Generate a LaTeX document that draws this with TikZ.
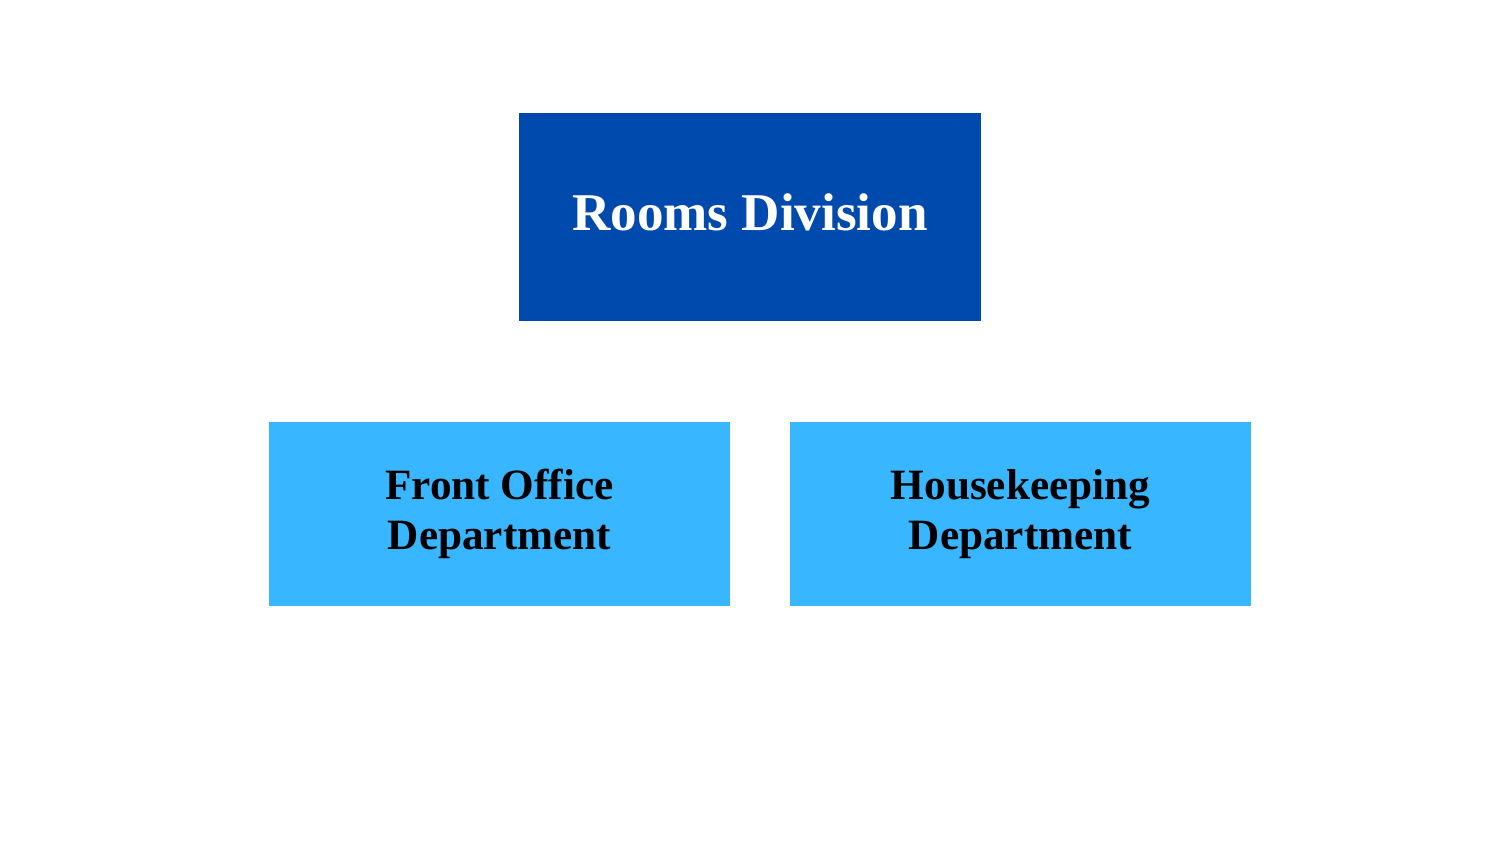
\documentclass[tikz,border=0pt]{standalone}
\usepackage{fontspec}
\setmainfont{Liberation Serif}
\definecolor{darkblue}{HTML}{004AAD}
\definecolor{lightblue}{HTML}{38B6FF}
\tikzset{
  topbox/.style={fill=darkblue, draw=none, minimum width=4.62cm, minimum height=2.08cm, text=white, font=\bfseries\fontsize{15.1}{18}\selectfont, inner sep=0pt},
  subbox/.style={fill=lightblue, draw=none, minimum width=4.61cm, minimum height=1.84cm, text=black, align=center, font=\bfseries\fontsize{12.3}{14.2}\selectfont, inner sep=0pt}
}
\begin{document}
\begin{tikzpicture}
\useasboundingbox[fill=white] (0,0) rectangle (15,8.44);
\path[fill=darkblue] (5.19,5.23) rectangle (9.81,7.31);
\node[topbox, fill=none, text depth=0pt] (rooms) at (7.50,6.32) {Rooms Division};
\node[subbox] (front) at (4.995,3.30) {Front Office\\Department};
\node[subbox] (house) at (10.205,3.30) {Housekeeping\\Department};
\end{tikzpicture}
\end{document}
